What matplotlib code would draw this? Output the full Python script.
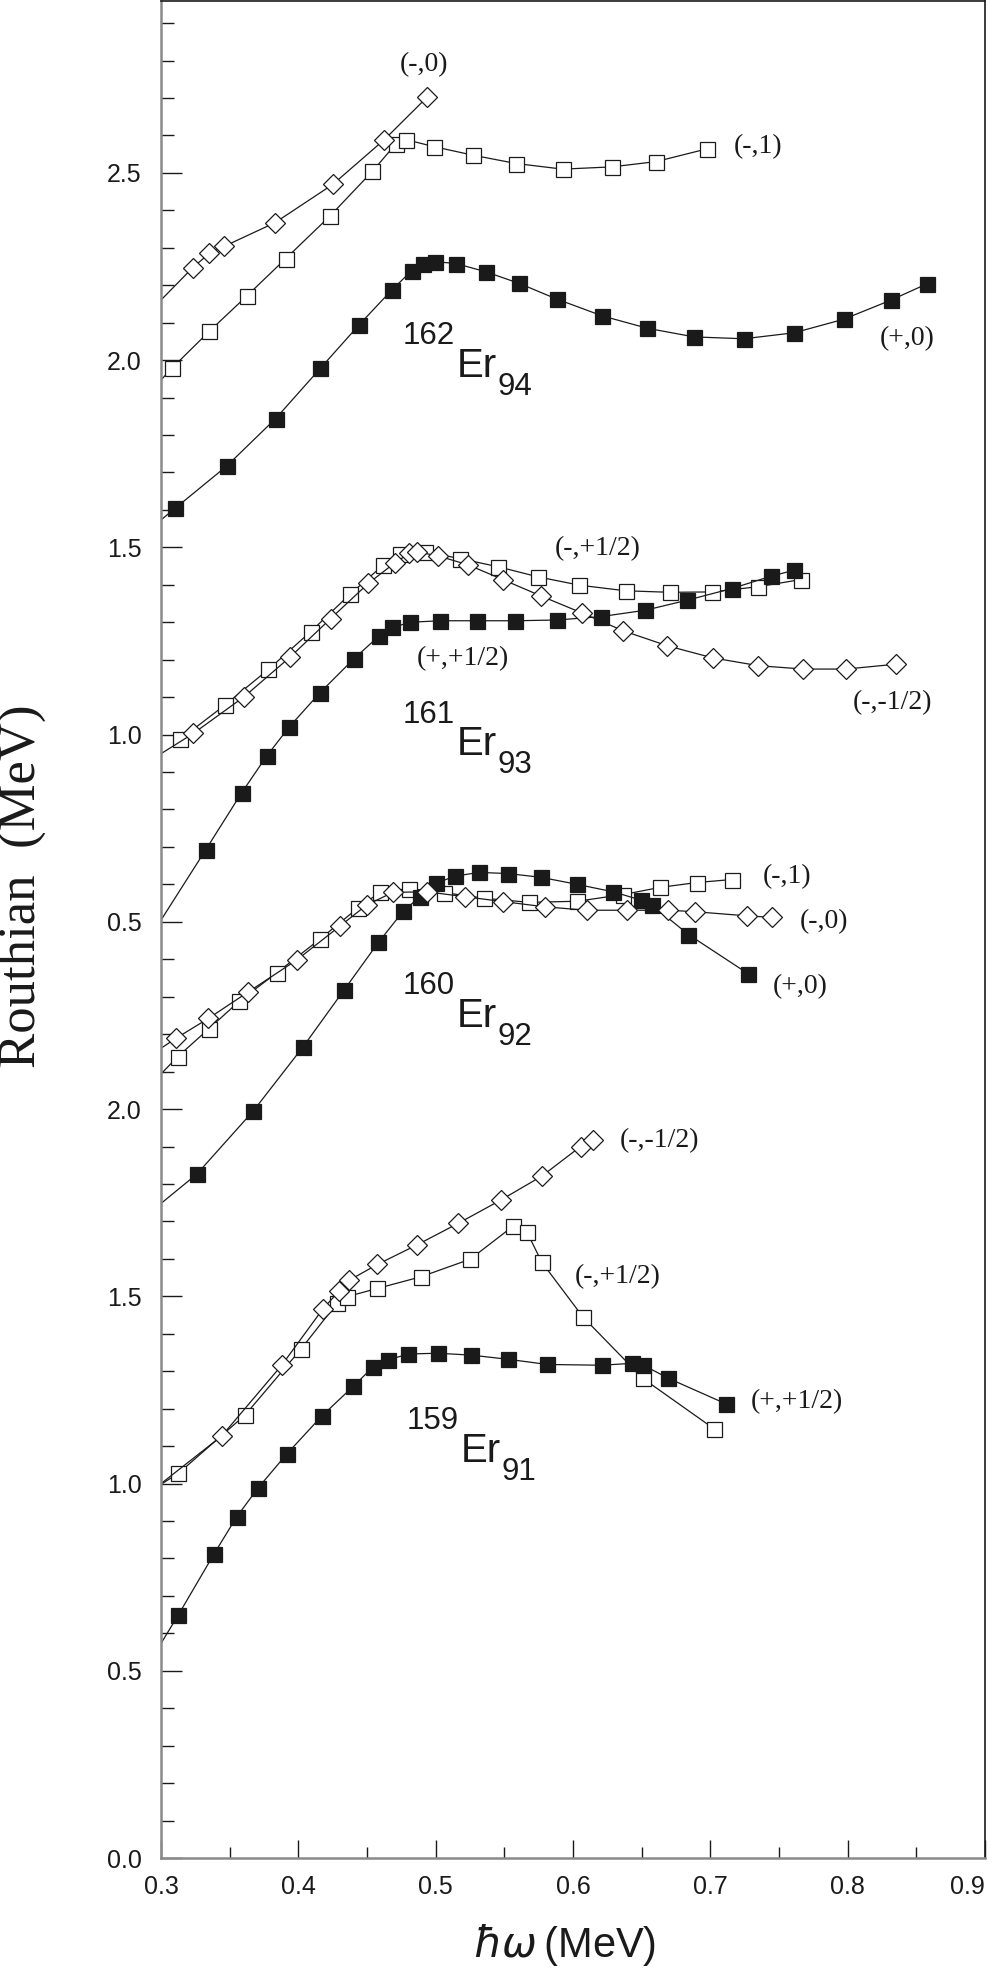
import matplotlib.pyplot as plt
from matplotlib.ticker import MultipleLocator, FixedLocator, FixedFormatter

plt.rcParams['font.family'] = ['Liberation Sans', 'DejaVu Sans']
plt.rcParams['mathtext.fontset'] = 'dejavusans'

# hbar*omega (MeV) vs Routhian (each nucleus shifted up).
# a leading point left of 0.3 lets the line come in from the frame, like the original
# --- 162Er ---
er162_m0_x = [0.29, 0.3231, 0.3352, 0.3461, 0.3830, 0.4250, 0.4627, 0.4940]
er162_m0_y = [4.123, 4.247, 4.285, 4.304, 4.367, 4.469, 4.589, 4.703]
er162_m1_x = [0.29, 0.3078, 0.3352, 0.3624, 0.3908, 0.4231, 0.4539, 0.4709, 0.4782,
              0.4988, 0.5275, 0.5586, 0.5925, 0.6282, 0.6603, 0.6974]
er162_m1_y = [3.907, 3.978, 4.077, 4.171, 4.271, 4.385, 4.504, 4.577, 4.589,
              4.570, 4.547, 4.525, 4.510, 4.516, 4.530, 4.564]
er162_p0_x = [0.29, 0.3102, 0.3478, 0.3835, 0.4160, 0.4442, 0.4680, 0.4826, 0.4911,
              0.4996, 0.5146, 0.5365, 0.5607, 0.5882, 0.6214, 0.6542, 0.6882, 0.7244,
              0.7610, 0.7970, 0.8314, 0.8579]
er162_p0_y = [3.543, 3.604, 3.717, 3.844, 3.978, 4.094, 4.187, 4.239, 4.256,
              4.263, 4.258, 4.236, 4.205, 4.163, 4.118, 4.085, 4.062, 4.057,
              4.073, 4.109, 4.160, 4.204]
# --- 161Er ---
er161_mp_x = [0.3138, 0.3466, 0.3782, 0.4090, 0.4377, 0.4619, 0.4741, 0.4923, 0.5178,
              0.5457, 0.5748, 0.6047, 0.6384, 0.6707, 0.7011, 0.7350, 0.7659]
er161_mp_y = [2.987, 3.079, 3.174, 3.275, 3.375, 3.453, 3.482, 3.488, 3.470,
              3.448, 3.421, 3.399, 3.384, 3.380, 3.381, 3.395, 3.414]
er161_mm_x = [0.29, 0.3235, 0.3605, 0.3940, 0.4236, 0.4510, 0.4704, 0.4809, 0.4862,
              0.5020, 0.5238, 0.5489, 0.5768, 0.6064, 0.6367, 0.6688, 0.7016, 0.7350,
              0.7678, 0.7987, 0.8351]
er161_mm_y = [2.926, 3.003, 3.101, 3.207, 3.310, 3.404, 3.459, 3.484, 3.488,
              3.477, 3.453, 3.414, 3.370, 3.325, 3.277, 3.237, 3.205, 3.184,
              3.175, 3.175, 3.188]
er161_pp_x = [0.29, 0.3325, 0.3588, 0.3770, 0.3935, 0.4158, 0.4406, 0.4590, 0.4685,
              0.4814, 0.5032, 0.5299, 0.5578, 0.5882, 0.6202, 0.6525, 0.6833, 0.7156,
              0.7443, 0.7610]
er161_pp_y = [2.447, 2.692, 2.845, 2.943, 3.021, 3.112, 3.203, 3.264, 3.286,
              3.300, 3.304, 3.304, 3.304, 3.306, 3.315, 3.332, 3.359, 3.390,
              3.423, 3.439]
# --- 160Er ---
er160_m0_x = [0.29, 0.3109, 0.3345, 0.3636, 0.3988, 0.4304, 0.4498, 0.4690, 0.4940,
              0.5214, 0.5493, 0.5797, 0.6101, 0.6394, 0.6695, 0.6889, 0.7266, 0.7448]
er160_m0_y = [2.138, 2.189, 2.242, 2.313, 2.398, 2.489, 2.545, 2.579, 2.580,
              2.567, 2.554, 2.540, 2.531, 2.531, 2.531, 2.527, 2.516, 2.512]
er160_m1_x = [0.29, 0.3122, 0.3350, 0.3570, 0.3843, 0.4158, 0.4437, 0.4595, 0.4808,
              0.5061, 0.5355, 0.5682, 0.6032, 0.6367, 0.6634, 0.6902, 0.7157]
er160_m1_y = [2.056, 2.140, 2.215, 2.288, 2.364, 2.454, 2.538, 2.579, 2.589,
              2.578, 2.563, 2.552, 2.555, 2.573, 2.592, 2.605, 2.613]
er160_p0_x = [0.29, 0.3260, 0.3672, 0.4032, 0.4333, 0.4583, 0.4765, 0.4886, 0.5001,
              0.5141, 0.5316, 0.5525, 0.5765, 0.6032, 0.6294, 0.6496, 0.6576, 0.6841,
              0.7273]
er160_p0_y = [1.718, 1.826, 1.995, 2.165, 2.318, 2.445, 2.529, 2.567, 2.603,
              2.622, 2.632, 2.629, 2.619, 2.600, 2.580, 2.558, 2.545, 2.466,
              2.362]
# --- 159Er ---
er159_mm_x = [0.29, 0.3442, 0.3879, 0.4178, 0.4299, 0.4371, 0.4575, 0.4862, 0.5165,
              0.5474, 0.5773, 0.6055, 0.6149]
er159_mm_y = [0.971, 1.127, 1.316, 1.466, 1.515, 1.543, 1.585, 1.637, 1.695,
              1.757, 1.821, 1.900, 1.917]
er159_mp_x = [0.29, 0.3126, 0.3612, 0.4017, 0.4280, 0.4353, 0.4575, 0.4891, 0.5251,
              0.5566, 0.5664, 0.5773, 0.6072, 0.6508, 0.7028]
er159_mp_y = [0.975, 1.027, 1.183, 1.358, 1.481, 1.499, 1.521, 1.552, 1.599,
              1.688, 1.672, 1.591, 1.445, 1.281, 1.146]
er159_pp_x = [0.29, 0.3126, 0.3386, 0.3551, 0.3704, 0.3916, 0.4170, 0.4401, 0.4546,
              0.4651, 0.4801, 0.5015, 0.5258, 0.5525, 0.5814, 0.6210, 0.6428, 0.6513,
              0.6695, 0.7113]
er159_pp_y = [0.513, 0.649, 0.812, 0.911, 0.987, 1.079, 1.180, 1.260, 1.312,
              1.330, 1.346, 1.348, 1.343, 1.332, 1.318, 1.316, 1.321, 1.316,
              1.281, 1.213]

# stacked axis: lower block 0..2, upper block labelled again from 0.5
ytick_pos = [0.0, 0.5, 1.0, 1.5, 2.0, 2.5, 3.0, 3.5, 4.0, 4.5]
ytick_lab = ['0.0', '0.5', '1.0', '1.5', '2.0', '0.5', '1.0', '1.5', '2.0', '2.5']
xtick_pos = [0.3, 0.4, 0.5, 0.6, 0.7, 0.8, 0.9]

band_labels = ['(-,0)', '(-,1)', '(+,0)',
               '(-,+1/2)', '(+,+1/2)', '(-,-1/2)',
               '(-,1)', '(-,0)', '(+,0)',
               '(-,-1/2)', '(-,+1/2)', '(+,+1/2)']
band_lab_x = [0.4916, 0.7173, 0.8232, 0.5870, 0.4862, 0.8038,
              0.7380, 0.7654, 0.7455, 0.6338, 0.6015, 0.7295]
band_lab_y = [4.788, 4.570, 4.058, 3.497, 3.203, 3.086,
              2.620, 2.500, 2.327, 1.917, 1.552, 1.218]
masses = ['162', '161', '160', '159']
neutrons = ['94', '93', '92', '91']
nuc_x = [0.5154, 0.5154, 0.5154, 0.5183]
nuc_y = [3.955, 2.945, 2.220, 1.058]

fig = plt.figure(figsize=(10, 19.87), dpi=100)
ax = fig.add_axes([0.161, 0.0649, 0.824, 0.9346])

open_sq = dict(marker='s', ms=10.8, mfc='white')
filled_sq = dict(marker='s', ms=10.8, mfc='#1a1a1a')
diamond = dict(marker='D', ms=10.2, mfc='white')

bands = [
    (er162_m1_x, er162_m1_y, open_sq), (er162_p0_x, er162_p0_y, filled_sq),
    (er162_m0_x, er162_m0_y, diamond),
    (er161_mp_x, er161_mp_y, open_sq), (er161_pp_x, er161_pp_y, filled_sq),
    (er161_mm_x, er161_mm_y, diamond),
    (er160_m1_x, er160_m1_y, open_sq), (er160_p0_x, er160_p0_y, filled_sq),
    (er160_m0_x, er160_m0_y, diamond),
    (er159_mp_x, er159_mp_y, open_sq), (er159_pp_x, er159_pp_y, filled_sq),
    (er159_mm_x, er159_mm_y, diamond),
]
for x, y, style in bands:
    ax.plot(x, y, color='#1a1a1a', lw=0.9, mec='#1a1a1a', mew=0.9, **style)

for lab, lx, ly in zip(band_labels, band_lab_x, band_lab_y):
    ha = 'center' if lab == '(-,0)' and ly > 4.7 else 'left'
    ax.text(lx, ly, lab, family='Liberation Serif', fontsize=20, ha=ha, va='center',
            color='#1a1a1a')

for m, n, x, y in zip(masses, neutrons, nuc_x, nuc_y):
    ax.text(x, y, 'Er', fontsize=29, ha='left', va='baseline', color='#1a1a1a')
    ax.annotate(m, (x, y), xytext=(-1.5, 23.5), textcoords='offset points',
                fontsize=22.5, ha='right', va='baseline', color='#1a1a1a')
    ax.annotate(n, (x, y), xytext=(29, -13), textcoords='offset points',
                fontsize=22.5, ha='left', va='baseline', color='#1a1a1a')

ax.set_xlim(0.3, 0.9)
ax.set_ylim(0.0, 4.959)
ax.xaxis.set_major_locator(FixedLocator(xtick_pos))
ax.xaxis.set_minor_locator(MultipleLocator(0.05))
ax.set_xticklabels(['%.1f' % v for v in xtick_pos])
ax.yaxis.set_major_locator(FixedLocator(ytick_pos))
ax.yaxis.set_major_formatter(FixedFormatter(ytick_lab))
ax.yaxis.set_minor_locator(MultipleLocator(0.1))

ax.tick_params(axis='both', which='both', direction='in', colors='#1a1a1a',
               width=1.0, labelsize=18)
ax.tick_params(axis='y', which='major', length=15, pad=14)
ax.tick_params(axis='y', which='minor', length=9.4)
ax.tick_params(axis='x', which='major', length=13, pad=12)
ax.tick_params(axis='x', which='minor', length=8)
# last x label sits against the figure edge in the original
ax.get_xticklabels()[-1].set_horizontalalignment('right')
ax.get_xticklabels()[-1].set_x(0.9)

for side in ['left', 'bottom']:
    ax.spines[side].set_color('#8a8a8a')
    ax.spines[side].set_linewidth(1.8)
for side in ['top', 'right']:
    ax.spines[side].set_color('#1a1a1a')
    ax.spines[side].set_linewidth(1.2)

fig.text(0.022, 1 - 886 / 1987, 'Routhian  (MeV)', family='Liberation Serif',
         fontsize=38, rotation=90, ha='center', va='center', color='#1a1a1a')
fig.text(0.565, 1 - 1945 / 1987, r'$\hbar\omega\,$(MeV)', fontsize=30,
         ha='center', va='center', color='#1a1a1a')

fig.savefig('out.png', dpi=100)
